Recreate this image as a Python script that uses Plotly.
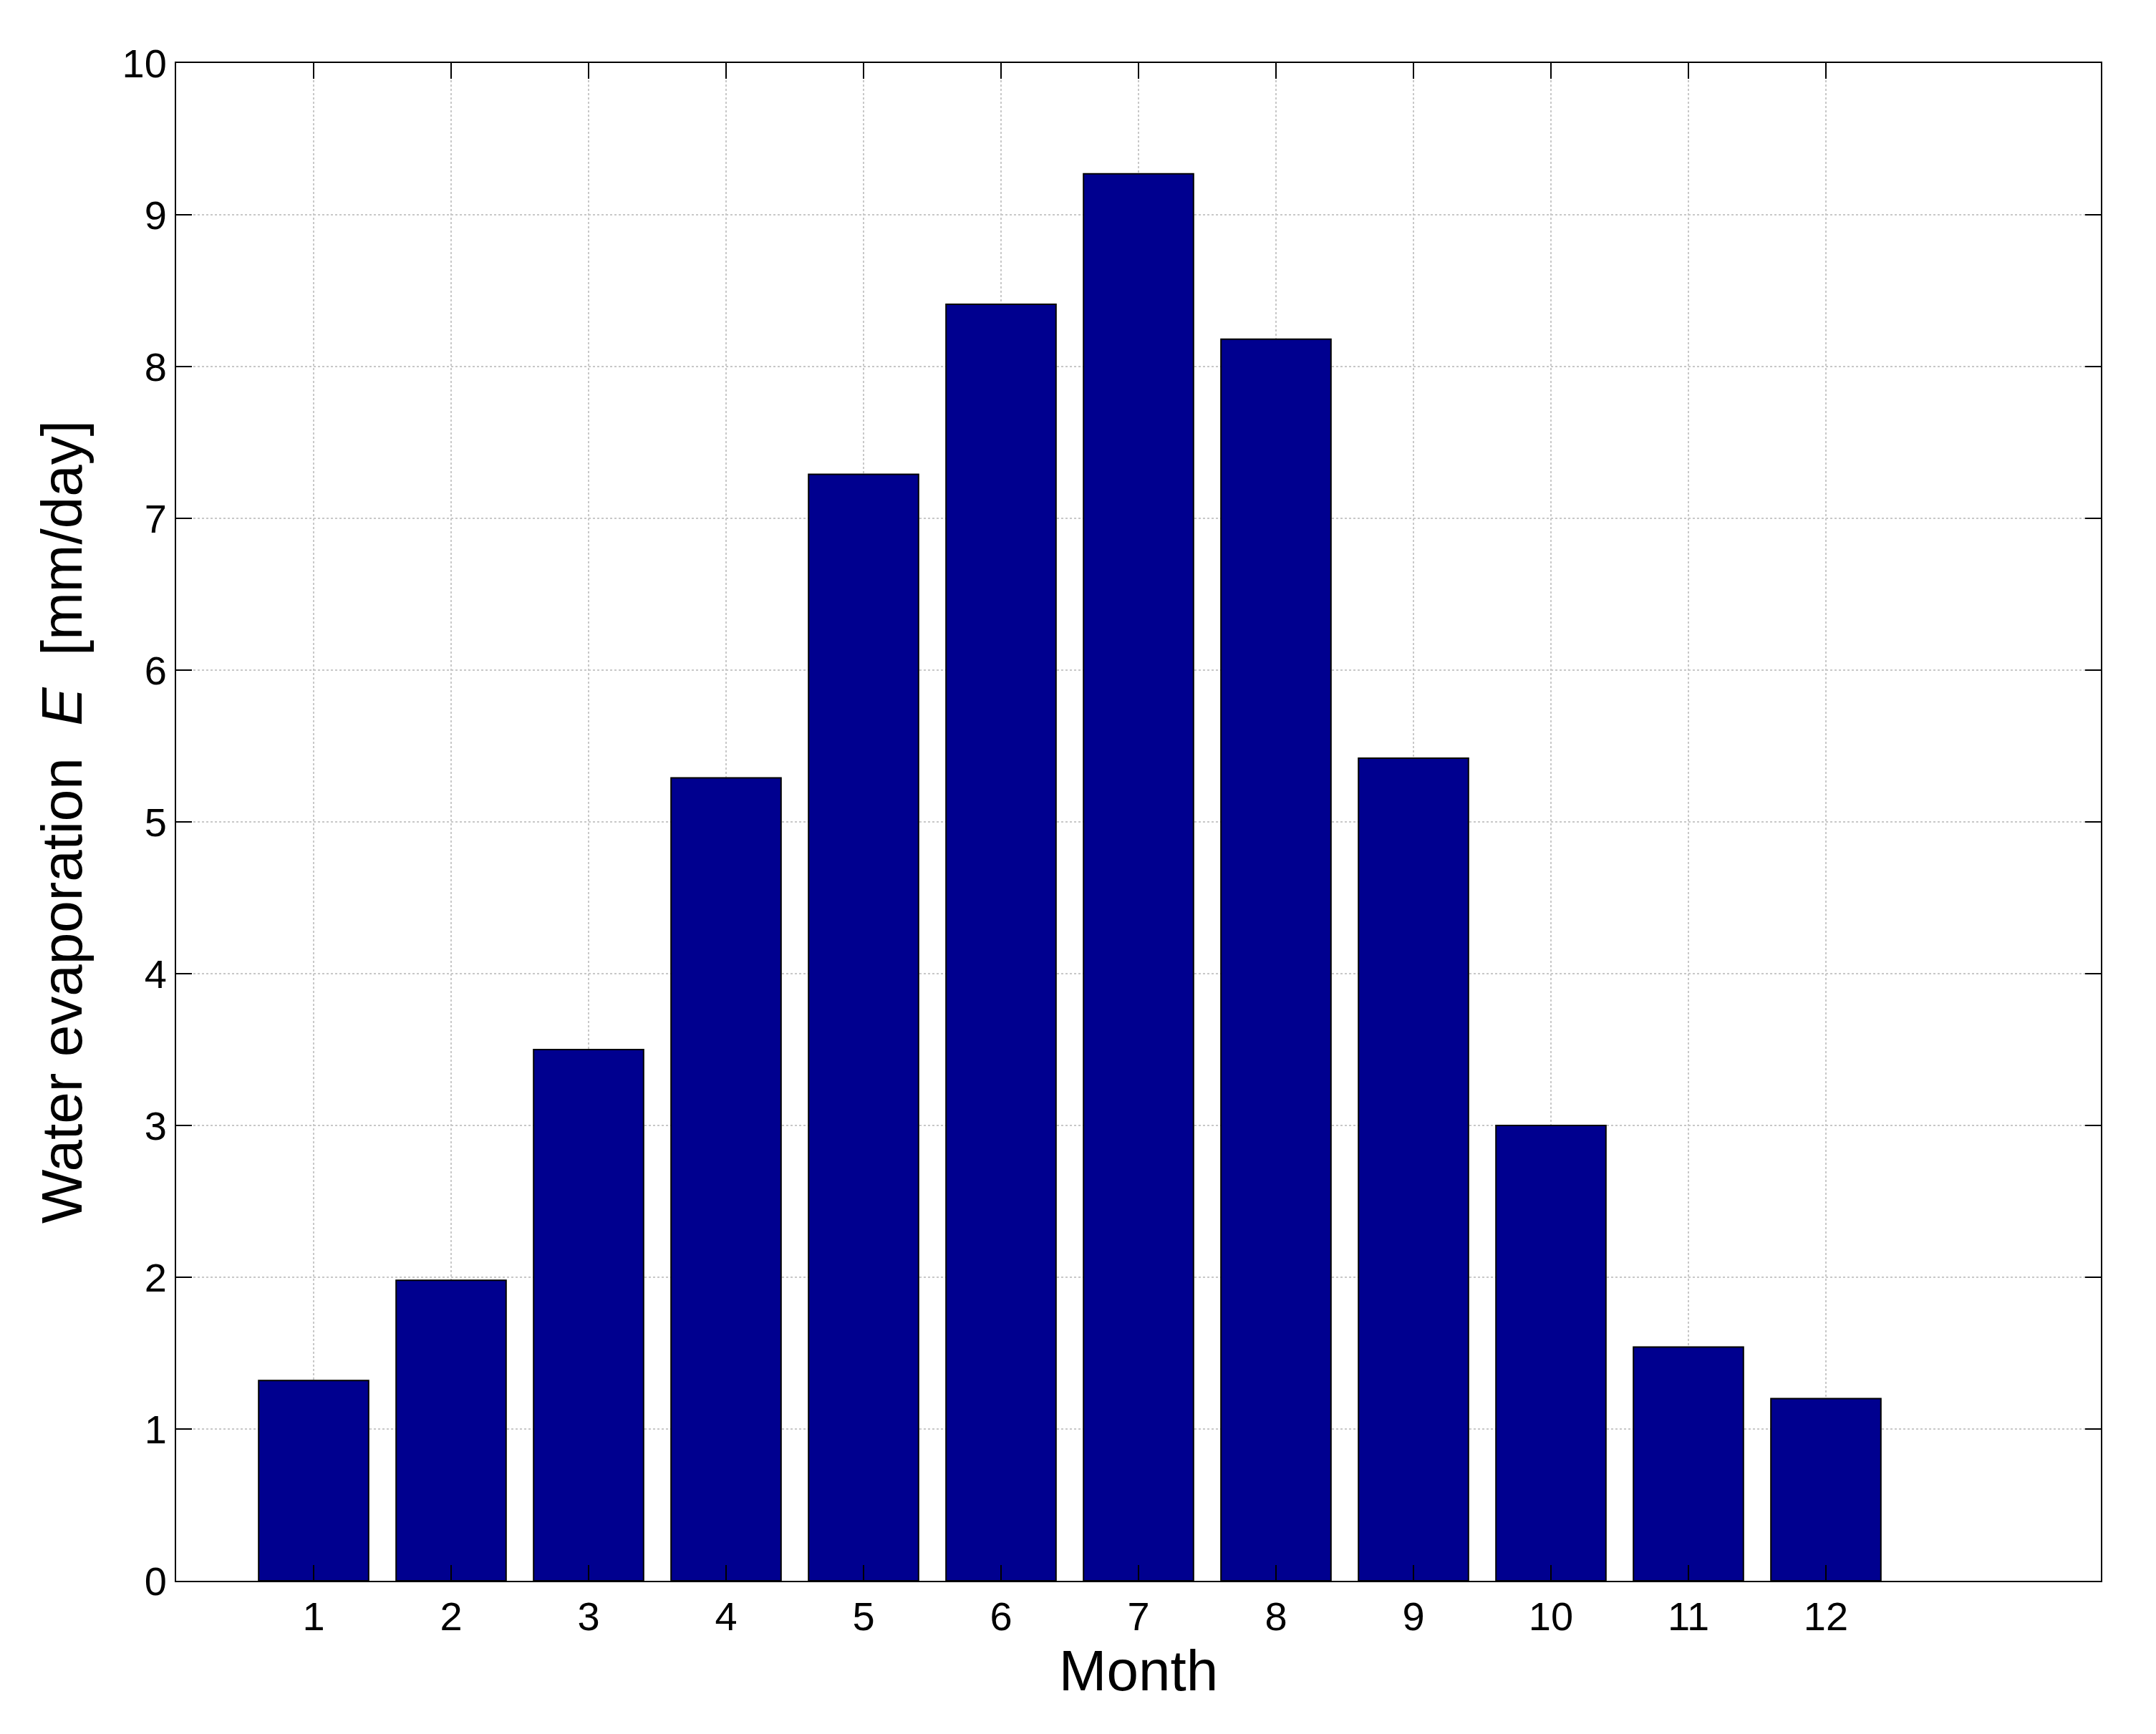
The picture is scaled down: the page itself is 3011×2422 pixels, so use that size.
import plotly.graph_objects as go

months = [1, 2, 3, 4, 5, 6, 7, 8, 9, 10, 11, 12]
evaporation = [1.32, 1.98, 3.5, 5.29, 7.29, 8.41, 9.27, 8.18, 5.42, 3.0, 1.54, 1.2]
y_ticks = list(range(0, 11))

fig = go.Figure()
fig.add_trace(go.Bar(x=months, y=evaporation, width=0.8,
                     marker=dict(color='#00008F', line=dict(color='black', width=2))))

axis_common = dict(showline=True, linecolor='black', linewidth=2, mirror='ticks',
                   ticks='inside', ticklen=22, tickwidth=2, tickcolor='black',
                   showgrid=True, gridcolor='#c8c8c8', griddash='dot', gridwidth=2,
                   zeroline=False, tickfont=dict(size=56, color='black'))

fig.update_xaxes(range=[0, 14], tickvals=months,
                 title=dict(text='Month', font=dict(size=80, color='black'), standoff=10),
                 **axis_common)
fig.update_yaxes(range=[0, 10], tickvals=y_ticks,
                 title=dict(text='Water evaporation  <i>E</i>  [mm/day]', font=dict(size=80, color='black'), standoff=30),
                 **axis_common)

fig.update_layout(width=3011, height=2422, plot_bgcolor='white', paper_bgcolor='white',
                  font=dict(family='Liberation Sans, Arial', color='black'),
                  margin=dict(l=238, r=85, t=80, b=222), showlegend=False, bargap=0.2)

fig.write_html("out.html")
